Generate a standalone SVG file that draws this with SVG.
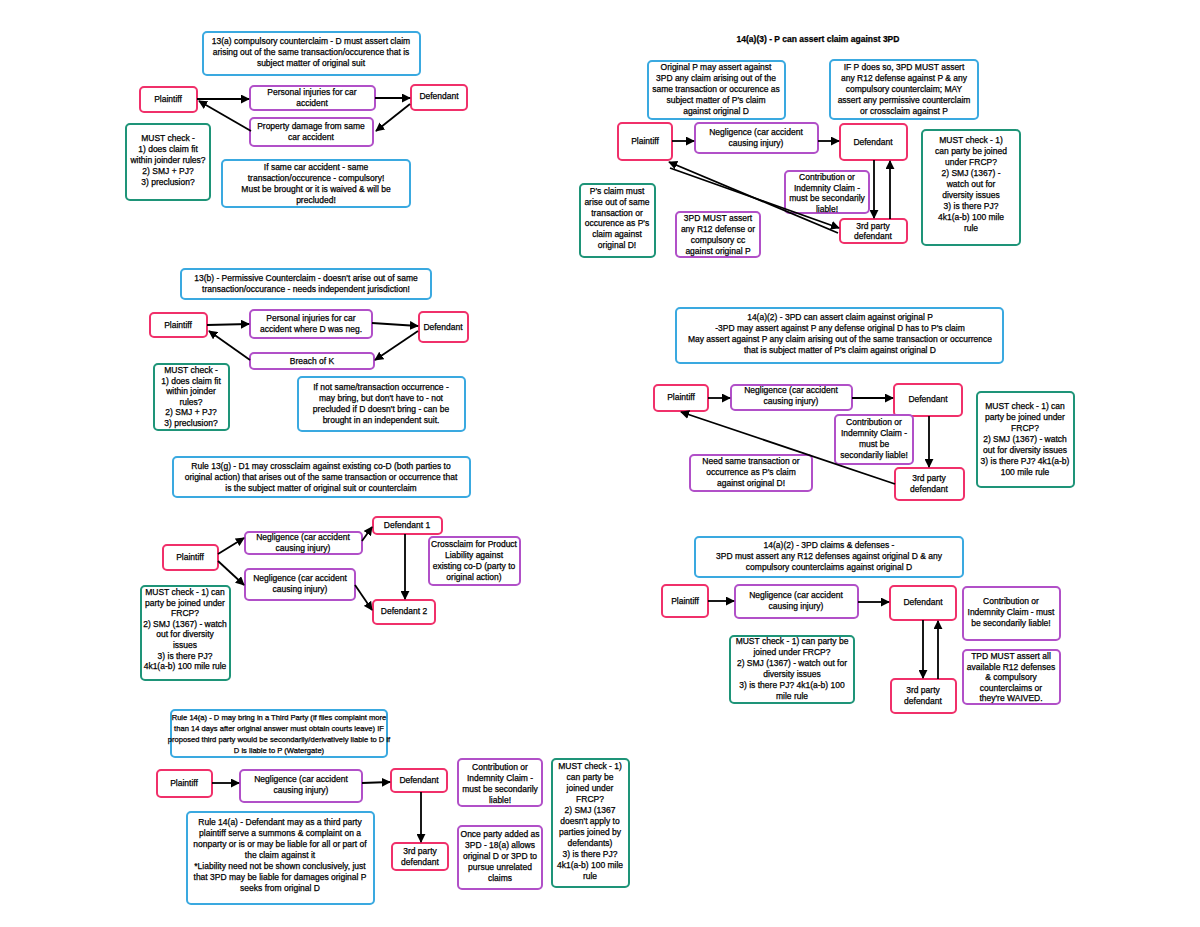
<svg xmlns="http://www.w3.org/2000/svg" width="1200" height="927" viewBox="0 0 1200 927">
<style>
rect{fill:#fff;stroke-width:2}
.b{stroke:#3aa9e0}.p{stroke:#f0306a}.u{stroke:#b150c8}.g{stroke:#1e9478}
text{font-family:"Liberation Sans",Arial,sans-serif;font-size:8.5px;fill:#000;text-anchor:middle;stroke:#000;stroke-width:0.25}
.sm{font-size:7.6px}
.c line{stroke:#000;stroke-width:1.8;marker-end:url(#a)}
</style>
<defs><marker id="a" viewBox="0 0 10 10" refX="9" refY="5" markerWidth="5" markerHeight="5" orient="auto"><path d="M0,0L10,5L0,10z" fill="#000"/></marker></defs>
<rect width="1200" height="927" style="fill:#fff;stroke:none"/>

<g id="s1">
<g id="n1t"><rect class="b" x="203" y="32" width="217" height="43" rx="4"/><text x="311" y="44">13(a) compulsory counterclaim - D must assert claim<tspan x="311" dy="11">arising out of the same transaction/occurence that is</tspan><tspan x="311" dy="11">subject matter of original suit</tspan></text></g>
<g id="n1p"><rect class="p" x="140" y="87" width="57" height="25" rx="4"/><text x="168" y="102">Plaintiff</text></g>
<g id="n1i"><rect class="u" x="250" y="86" width="125" height="24" rx="4"/><text x="312" y="95">Personal injuries for car<tspan x="312" dy="11">accident</tspan></text></g>
<g id="n1d"><rect class="p" x="411" y="85" width="56" height="25" rx="4"/><text x="439" y="99">Defendant</text></g>
<g id="n1pd"><rect class="u" x="250" y="118" width="123" height="28" rx="4"/><text x="311" y="129">Property damage from same<tspan x="311" dy="11">car accident</tspan></text></g>
<g id="n1m"><rect class="g" x="126" y="124" width="84" height="76" rx="4"/><text x="168" y="141">MUST check -<tspan x="168" dy="11">1) does claim fit</tspan><tspan x="168" dy="11">within joinder rules?</tspan><tspan x="168" dy="11">2) SMJ + PJ?</tspan><tspan x="168" dy="11">3) preclusion?</tspan></text></g>
<g id="n1s"><rect class="b" x="222" y="160" width="188" height="47" rx="4"/><text x="316" y="170">If same car accident - same<tspan x="316" dy="11">transaction/occurence - compulsory!</tspan><tspan x="316" dy="11">Must be brought or it is waived &amp; will be</tspan><tspan x="316" dy="11">precluded!</tspan></text></g>
</g>

<g id="s2">
<g id="n2t"><rect class="b" x="181" y="269" width="250" height="30" rx="4"/><text x="306" y="281">13(b) - Permissive Counterclaim - doesn't arise out of same<tspan x="306" dy="11">transaction/occurance - needs independent jurisdiction!</tspan></text></g>
<g id="n2p"><rect class="p" x="150" y="313" width="57" height="24" rx="4"/><text x="178" y="328">Plaintiff</text></g>
<g id="n2i"><rect class="u" x="250" y="310" width="122" height="28" rx="4"/><text x="311" y="321">Personal injuries for car<tspan x="311" dy="11">accident where D was neg.</tspan></text></g>
<g id="n2d"><rect class="p" x="419" y="312" width="49" height="30" rx="4"/><text x="443" y="330">Defendant</text></g>
<g id="n2b"><rect class="u" x="250" y="353" width="124" height="16" rx="4"/><text x="312" y="364">Breach of K</text></g>
<g id="n2m"><rect class="g" x="154" y="364" width="75" height="66" rx="4"/><text x="191" y="373">MUST check -<tspan x="191" dy="10.5">1) does claim fit</tspan><tspan x="191" dy="10.5">within joinder</tspan><tspan x="191" dy="10.5">rules?</tspan><tspan x="191" dy="10.5">2) SMJ + PJ?</tspan><tspan x="191" dy="10.5">3) preclusion?</tspan></text></g>
<g id="n2s"><rect class="b" x="298" y="377" width="167" height="54" rx="4"/><text x="381" y="390">If not same/transaction occurrence -<tspan x="381" dy="11">may bring, but don't have to - not</tspan><tspan x="381" dy="11">precluded if D doesn't bring - can be</tspan><tspan x="381" dy="11">brought in an independent suit.</tspan></text></g>
</g>

<g id="s3">
<g id="n3t"><rect class="b" x="173" y="457" width="297" height="40" rx="4"/><text x="321" y="469">Rule 13(g) - D1 may crossclaim against existing co-D (both parties to<tspan x="321" dy="11">original action) that arises out of the same transaction or occurrence that</tspan><tspan x="321" dy="11">is the subject matter of original suit or counterclaim</tspan></text></g>
<g id="n3p"><rect class="p" x="163" y="545" width="55" height="25" rx="4"/><text x="190" y="560">Plaintiff</text></g>
<g id="n3n1"><rect class="u" x="245" y="532" width="117" height="22" rx="4"/><text x="303" y="540">Negligence (car accident<tspan x="303" dy="11">causing injury)</tspan></text></g>
<g id="n3n2"><rect class="u" x="245" y="569" width="110" height="31" rx="4"/><text x="300" y="581">Negligence (car accident<tspan x="300" dy="11">causing injury)</tspan></text></g>
<g id="n3d1"><rect class="p" x="373" y="517" width="69" height="17" rx="4"/><text x="407" y="528">Defendant 1</text></g>
<g id="n3d2"><rect class="p" x="373" y="600" width="62" height="24" rx="4"/><text x="404" y="614">Defendant 2</text></g>
<g id="n3c"><rect class="u" x="429" y="537" width="91" height="48" rx="4"/><text x="474" y="547">Crossclaim for Product<tspan x="474" dy="11">Liability against</tspan><tspan x="474" dy="11">existing co-D (party to</tspan><tspan x="474" dy="11">original action)</tspan></text></g>
<g id="n3m"><rect class="g" x="141" y="586" width="89" height="94" rx="4"/><text x="185" y="595">MUST check - 1) can<tspan x="185" dy="10.6">party be joined under</tspan><tspan x="185" dy="10.6">FRCP?</tspan><tspan x="185" dy="10.6">2) SMJ (1367) - watch</tspan><tspan x="185" dy="10.6">out for diversity</tspan><tspan x="185" dy="10.6">issues</tspan><tspan x="185" dy="10.6">3) is there PJ?</tspan><tspan x="185" dy="10.6">4k1(a-b) 100 mile rule</tspan></text></g>
</g>

<g id="s4">
<g id="n4t"><rect class="b" x="171" y="710" width="216" height="47" rx="4"/><text class="sm" x="279" y="720">Rule 14(a) - D may bring in a Third Party (if files complaint more<tspan x="279" dy="11">than 14 days after original answer must obtain courts leave) IF</tspan><tspan x="279" dy="11">proposed third party would be secondarily/derivatively liable to D if</tspan><tspan x="279" dy="11">D is liable to P (Watergate)</tspan></text></g>
<g id="n4p"><rect class="p" x="157" y="770" width="55" height="27" rx="4"/><text x="184" y="786">Plaintiff</text></g>
<g id="n4n"><rect class="u" x="240" y="770" width="122" height="32" rx="4"/><text x="301" y="782">Negligence (car accident<tspan x="301" dy="11">causing injury)</tspan></text></g>
<g id="n4d"><rect class="p" x="391" y="769" width="56" height="23" rx="4"/><text x="419" y="783">Defendant</text></g>
<g id="n4tp"><rect class="p" x="392" y="843" width="56" height="27" rx="4"/><text x="420" y="854">3rd party<tspan x="420" dy="11">defendant</tspan></text></g>
<g id="n4r"><rect class="b" x="187" y="812" width="187" height="92" rx="4"/><text x="280" y="825">Rule 14(a) - Defendant may as a third party<tspan x="280" dy="11">plaintiff serve a summons &amp; complaint on a</tspan><tspan x="280" dy="11">nonparty or is or may be liable for all or part of</tspan><tspan x="280" dy="11">the claim against it</tspan><tspan x="280" dy="11">*Liability need not be shown conclusively, just</tspan><tspan x="280" dy="11">that 3PD may be liable for damages original P</tspan><tspan x="280" dy="11">seeks from original D</tspan></text></g>
<g id="n4c"><rect class="u" x="458" y="759" width="84" height="47" rx="4"/><text x="500" y="770">Contribution or<tspan x="500" dy="11">Indemnity Claim -</tspan><tspan x="500" dy="11">must be secondarily</tspan><tspan x="500" dy="11">liable!</tspan></text></g>
<g id="n4o"><rect class="u" x="458" y="826" width="84" height="63" rx="4"/><text x="500" y="837">Once party added as<tspan x="500" dy="11">3PD - 18(a) allows</tspan><tspan x="500" dy="11">original D or 3PD to</tspan><tspan x="500" dy="11">pursue unrelated</tspan><tspan x="500" dy="11">claims</tspan></text></g>
<g id="n4m"><rect class="g" x="552" y="759" width="77" height="128" rx="4"/><text x="590" y="769">MUST check - 1)<tspan x="590" dy="11">can party be</tspan><tspan x="590" dy="11">joined under</tspan><tspan x="590" dy="11">FRCP?</tspan><tspan x="590" dy="11">2) SMJ (1367</tspan><tspan x="590" dy="11">doesn't apply to</tspan><tspan x="590" dy="11">parties joined by</tspan><tspan x="590" dy="11">defendants)</tspan><tspan x="590" dy="11">3) is there PJ?</tspan><tspan x="590" dy="11">4k1(a-b) 100 mile</tspan><tspan x="590" dy="11">rule</tspan></text></g>
</g>

<g id="s5">
<text x="818" y="42" style="font-weight:bold">14(a)(3) - P can assert claim against 3PD</text>
<g id="n5o"><rect class="b" x="648" y="61" width="137" height="58" rx="4"/><text x="716" y="70">Original P may assert against<tspan x="716" dy="11">3PD any claim arising out of the</tspan><tspan x="716" dy="11">same transaction or occurence as</tspan><tspan x="716" dy="11">subject matter of P's claim</tspan><tspan x="716" dy="11">against original D</tspan></text></g>
<g id="n5i"><rect class="b" x="830" y="60" width="148" height="59" rx="4"/><text x="904" y="70">IF P does so, 3PD MUST assert<tspan x="904" dy="11">any R12 defense against P &amp; any</tspan><tspan x="904" dy="11">compulsory counterclaim; MAY</tspan><tspan x="904" dy="11">assert any permissive counterclaim</tspan><tspan x="904" dy="11">or crossclaim against P</tspan></text></g>
<g id="n5p"><rect class="p" x="618" y="123" width="54" height="37" rx="4"/><text x="645" y="144">Plaintiff</text></g>
<g id="n5n"><rect class="u" x="695" y="123" width="123" height="30" rx="4"/><text x="756" y="135">Negligence (car accident<tspan x="756" dy="11">causing injury)</tspan></text></g>
<g id="n5d"><rect class="p" x="840" y="124" width="67" height="36" rx="4"/><text x="873" y="145">Defendant</text></g>
<g id="n5m"><rect class="g" x="922" y="130" width="98" height="115" rx="4"/><text x="971" y="143">MUST check - 1)<tspan x="971" dy="11">can party be joined</tspan><tspan x="971" dy="11">under FRCP?</tspan><tspan x="971" dy="11">2) SMJ (1367) -</tspan><tspan x="971" dy="11">watch out for</tspan><tspan x="971" dy="11">diversity issues</tspan><tspan x="971" dy="11">3) is there PJ?</tspan><tspan x="971" dy="11">4k1(a-b) 100 mile</tspan><tspan x="971" dy="11">rule</tspan></text></g>
<g id="n5c"><rect class="u" x="785" y="171" width="84" height="42" rx="4"/><text x="827" y="180">Contribution or<tspan x="827" dy="10.5">Indemnity Claim -</tspan><tspan x="827" dy="10.5">must be secondarily</tspan><tspan x="827" dy="10.5">liable!</tspan></text></g>
<g id="n5tp"><rect class="p" x="840" y="219" width="67" height="24" rx="4"/><text x="873" y="229">3rd party<tspan x="873" dy="10">defendant</tspan></text></g>
<g id="n5c2"><rect class="g" x="580" y="184" width="75" height="73" rx="4"/><text x="617" y="194">P's claim must<tspan x="617" dy="10.8">arise out of same</tspan><tspan x="617" dy="10.8">transaction or</tspan><tspan x="617" dy="10.8">occurence as P's</tspan><tspan x="617" dy="10.8">claim against</tspan><tspan x="617" dy="10.8">original D!</tspan></text></g>
<g id="n5s"><rect class="u" x="676" y="212" width="84" height="45" rx="4"/><text x="718" y="221">3PD MUST assert<tspan x="718" dy="11">any R12 defense or</tspan><tspan x="718" dy="11">compulsory cc</tspan><tspan x="718" dy="11">against original P</tspan></text></g>
</g>

<g id="s6">
<g id="n6t"><rect class="b" x="676" y="308" width="327" height="55" rx="4"/><text x="840" y="320">14(a)(2) - 3PD can assert claim against original P<tspan x="840" dy="11">-3PD may assert against P any defense original D has to P's claim</tspan><tspan x="840" dy="11">May assert against P any claim arising out of the same transaction or occurrence</tspan><tspan x="840" dy="11">that is subject matter of P's claim against original D</tspan></text></g>
<g id="n6p"><rect class="p" x="654" y="385" width="54" height="26" rx="4"/><text x="681" y="400">Plaintiff</text></g>
<g id="n6n"><rect class="u" x="731" y="385" width="121" height="25" rx="4"/><text x="791" y="393">Negligence (car accident<tspan x="791" dy="11">causing injury)</tspan></text></g>
<g id="n6d"><rect class="p" x="894" y="384" width="68" height="32" rx="4"/><text x="928" y="402">Defendant</text></g>
<g id="n6c"><rect class="u" x="835" y="415" width="78" height="49" rx="4"/><text x="874" y="425">Contribution or<tspan x="874" dy="11">Indemnity Claim -</tspan><tspan x="874" dy="11">must be</tspan><tspan x="874" dy="11">secondarily liable!</tspan></text></g>
<g id="n6s"><rect class="u" x="690" y="455" width="122" height="36" rx="4"/><text x="751" y="464">Need same transaction or<tspan x="751" dy="11">occurrence as P's claim</tspan><tspan x="751" dy="11">against original D!</tspan></text></g>
<g id="n6tp"><rect class="p" x="895" y="468" width="69" height="32" rx="4"/><text x="929" y="481">3rd party<tspan x="929" dy="11">defendant</tspan></text></g>
<g id="n6m"><rect class="g" x="977" y="392" width="97" height="95" rx="4"/><text x="1025" y="409">MUST check - 1) can<tspan x="1025" dy="11">party be joined under</tspan><tspan x="1025" dy="11">FRCP?</tspan><tspan x="1025" dy="11">2) SMJ (1367) - watch</tspan><tspan x="1025" dy="11">out for diversity issues</tspan><tspan x="1025" dy="11">3) is there PJ? 4k1(a-b)</tspan><tspan x="1025" dy="11">100 mile rule</tspan></text></g>
</g>

<g id="s7">
<g id="n7t"><rect class="b" x="695" y="537" width="268" height="40" rx="4"/><text x="829" y="548">14(a)(2) - 3PD claims &amp; defenses -<tspan x="829" dy="11">3PD must assert any R12 defenses against original D &amp; any</tspan><tspan x="829" dy="11">compulsory counterclaims against original D</tspan></text></g>
<g id="n7p"><rect class="p" x="662" y="585" width="46" height="32" rx="4"/><text x="685" y="604">Plaintiff</text></g>
<g id="n7n"><rect class="u" x="735" y="585" width="123" height="33" rx="4"/><text x="796" y="598">Negligence (car accident<tspan x="796" dy="11">causing injury)</tspan></text></g>
<g id="n7d"><rect class="p" x="890" y="586" width="66" height="34" rx="4"/><text x="923" y="605">Defendant</text></g>
<g id="n7c"><rect class="u" x="963" y="587" width="97" height="53" rx="4"/><text x="1011" y="604">Contribution or<tspan x="1011" dy="11">Indemnity Claim - must</tspan><tspan x="1011" dy="11">be secondarily liable!</tspan></text></g>
<g id="n7m"><rect class="g" x="730" y="636" width="124" height="67" rx="4"/><text x="792" y="644">MUST check - 1) can party be<tspan x="792" dy="11">joined under FRCP?</tspan><tspan x="792" dy="11">2) SMJ (1367) - watch out for</tspan><tspan x="792" dy="11">diversity issues</tspan><tspan x="792" dy="11">3) is there PJ? 4k1(a-b) 100</tspan><tspan x="792" dy="11">mile rule</tspan></text></g>
<g id="n7tp"><rect class="p" x="891" y="679" width="65" height="34" rx="4"/><text x="923" y="693">3rd party<tspan x="923" dy="11">defendant</tspan></text></g>
<g id="n7s"><rect class="u" x="963" y="650" width="97" height="54" rx="4"/><text x="1011" y="659">TPD MUST assert all<tspan x="1011" dy="10.5">available R12 defenses</tspan><tspan x="1011" dy="10.5">&amp; compulsory</tspan><tspan x="1011" dy="10.5">counterclaims or</tspan><tspan x="1011" dy="10.5">they're WAIVED.</tspan></text></g>
</g>

<g id="connectors" class="c">
<line x1="197" y1="99" x2="249" y2="99"/>
<line x1="375" y1="98" x2="410" y2="98"/>
<line x1="410" y1="104" x2="376" y2="131"/>
<line x1="251" y1="131" x2="199" y2="101"/>
<line x1="207" y1="325" x2="249" y2="324"/>
<line x1="372" y1="323" x2="418" y2="326"/>
<line x1="418" y1="331" x2="375" y2="360"/>
<line x1="250" y1="360" x2="209" y2="331"/>
<line x1="218" y1="554" x2="244" y2="538"/>
<line x1="218" y1="561" x2="244" y2="585"/>
<line x1="362" y1="541" x2="372" y2="527"/>
<line x1="355" y1="585" x2="372" y2="610"/>
<line x1="405" y1="534" x2="405" y2="599"/>
<line x1="212" y1="783" x2="239" y2="783"/>
<line x1="362" y1="783" x2="390" y2="782"/>
<line x1="421" y1="792" x2="421" y2="842"/>
<line x1="672" y1="141" x2="694" y2="141"/>
<line x1="818" y1="141" x2="839" y2="141"/>
<line x1="874" y1="160" x2="874" y2="218"/>
<line x1="890" y1="219" x2="890" y2="161"/>
<line x1="838" y1="233" x2="669" y2="162"/>
<line x1="670" y1="168" x2="839" y2="228"/>
<line x1="708" y1="398" x2="730" y2="398"/>
<line x1="852" y1="398" x2="893" y2="398"/>
<line x1="929" y1="416" x2="929" y2="467"/>
<line x1="895" y1="484" x2="681" y2="412"/>
<line x1="708" y1="601" x2="734" y2="601"/>
<line x1="858" y1="602" x2="889" y2="602"/>
<line x1="923" y1="620" x2="923" y2="678"/>
<line x1="938" y1="679" x2="938" y2="621"/>
</g>
</svg>
